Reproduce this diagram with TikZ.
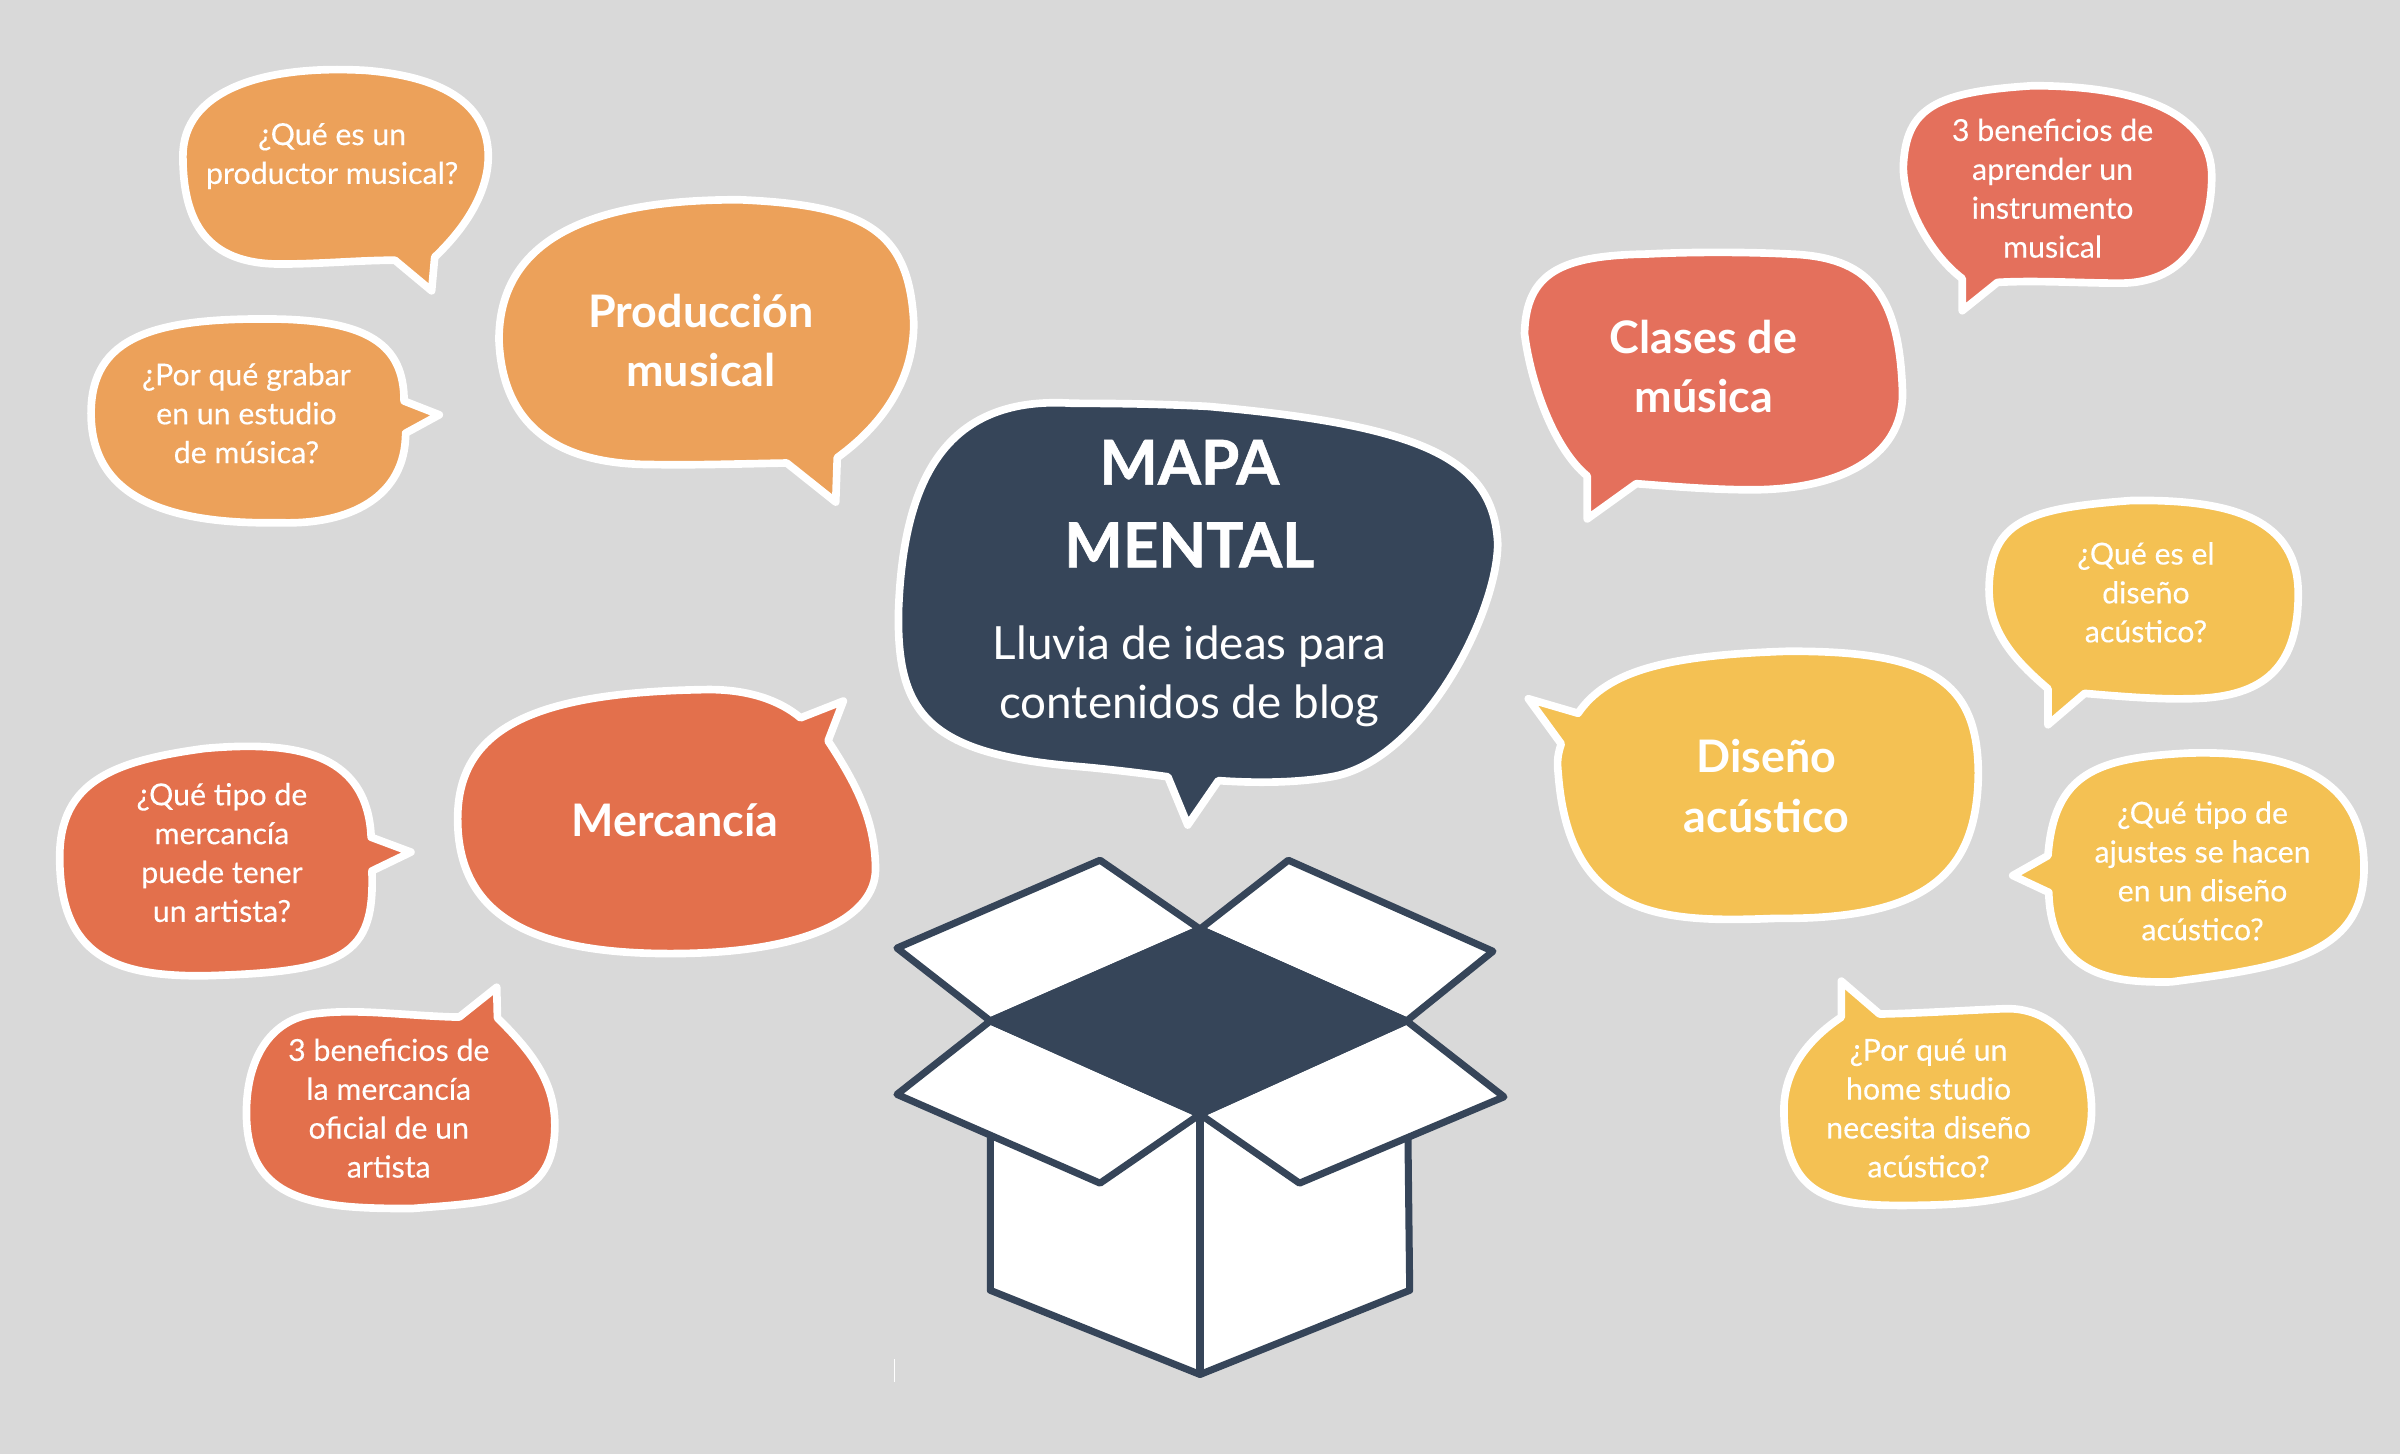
\documentclass[tikz,border=0pt]{standalone}
\usepackage{fontspec}
\setmainfont{Lato}
\definecolor{bgc}{HTML}{D9D9D9}
\definecolor{navy}{HTML}{364559}
\definecolor{orangec}{HTML}{ECA15A}
\definecolor{redc}{HTML}{E4705C}
\definecolor{merc}{HTML}{E3704C}
\definecolor{yell}{HTML}{F4C153}
\tikzset{
  bubble/.style={draw=white,line width=5pt,line join=round,fill=#1},
  boxline/.style={draw=navy,line width=4.6pt,line join=round,fill=white},
  small/.style={text=white,align=center,inner sep=0pt,font=\fontsize{19.8}{25.4}\selectfont\addfontfeatures{FakeBold=0.25}},
  big/.style={text=white,align=center,inner sep=0pt,font=\fontsize{29.3}{39}\selectfont\bfseries},
  title/.style={text=white,align=center,inner sep=0pt,font=\fontsize{40.5}{54}\selectfont\bfseries\addfontfeatures{FakeBold=0.9}},
  sub/.style={text=white,align=center,inner sep=0pt,font=\fontsize{29.9}{38.5}\selectfont},
}
\begin{document}
\begin{tikzpicture}[x=1pt,y=-1pt]
\useasboundingbox (0,0) rectangle (1568,950);
\fill[bgc] (0,0) rectangle (1568,950);
\draw[white,line width=0.8pt] (584.5,888) -- (584.5,903);

% orange bubbles
\draw[bubble=orangec] (284,168) .. controls (305,148) and (319,125) .. (319,102)
  .. controls (319,75) and (300,51) .. (239,46)
  .. controls (170,42) and (119.5,60) .. (119.5,102)
  .. controls (119.5,145) and (135,172.5) .. (183,172.5)
  .. controls (210,172.5) and (235,170) .. (258,170) -- (282,190) -- cycle;
\draw[bubble=orangec] (265,283) .. controls (265,325) and (228,343) .. (183,341.5)
  .. controls (100,343) and (59.5,320) .. (59.5,270)
  .. controls (59.5,220) and (100,207) .. (183,208.5)
  .. controls (240,210) and (264,225) .. (264,262) -- (287,271) -- cycle;
\draw[bubble=orangec] (547,299) .. controls (580,275) and (597,245) .. (597,211)
  .. controls (594,150) and (565,134) .. (483,130.5)
  .. controls (420,130.5) and (326,140) .. (326,222)
  .. controls (328,275) and (360,303.5) .. (426,303.5)
  .. controls (455,304) and (485,303) .. (514,302.5) -- (546,328) -- cycle;
% central
\draw[bubble=navy] (796,510) .. controls (825,512) and (850,511) .. (870,507.5)
  .. controls (930,497) and (978.5,400) .. (978.5,355)
  .. controls (976,300) and (930,278) .. (789,265.5)
  .. controls (760,264) and (730,263.5) .. (701,263.5)
  .. controls (620,258) and (590,310) .. (587,400)
  .. controls (586,465) and (605,492) .. (701,500.5)
  .. controls (720,502) and (745,505) .. (763,507.5) -- (776,539) -- cycle;
% red
\draw[bubble=redc] (1037,311) .. controls (1015,293) and (1000,250) .. (996,218)
  .. controls (997,178) and (1020,167) .. (1075,166)
  .. controls (1105,164.5) and (1140,164.5) .. (1170,166)
  .. controls (1220,168) and (1241,190) .. (1243,257)
  .. controls (1243,300) and (1200,320) .. (1144.5,320)
  .. controls (1120,320) and (1095,318) .. (1069,316) -- (1037,339) -- cycle;
\draw[bubble=redc] (1282,182) .. controls (1262,167) and (1243.5,135) .. (1243.5,109)
  .. controls (1245,70) and (1265,60) .. (1328,56)
  .. controls (1400,56) and (1445,75) .. (1445,115)
  .. controls (1445,150) and (1430,185) .. (1385,185)
  .. controls (1360,185) and (1330,183) .. (1305,184.5) -- (1282,203) -- cycle;
% yellow
\draw[bubble=yell] (1031,466) .. controls (1050,438) and (1090,428) .. (1167.5,425.5)
  .. controls (1262,425) and (1292,445) .. (1292.5,505)
  .. controls (1292,570) and (1260,601) .. (1160,600)
  .. controls (1085,603) and (1025,600) .. (1018,505)
  .. controls (1017,497) and (1018,492) .. (1020,486) -- (998.5,456.5) -- cycle;
\draw[bubble=yell] (1338,450) .. controls (1312,428) and (1299.5,410) .. (1299.5,385)
  .. controls (1300,340) and (1325,332) .. (1392.5,327)
  .. controls (1460,326) and (1501.5,340) .. (1501.5,388)
  .. controls (1501.5,440) and (1475,456) .. (1430,456.5)
  .. controls (1410,457) and (1385,455) .. (1362,453) -- (1338,473.5) -- cycle;
\draw[bubble=yell] (1338,559) .. controls (1342,505) and (1370,495) .. (1430,492)
  .. controls (1500,490) and (1544.5,510) .. (1544.5,567)
  .. controls (1544.5,625) and (1490,632) .. (1418.5,641.5)
  .. controls (1385,642) and (1340,640) .. (1338.5,583) -- (1315,572) -- cycle;
\draw[bubble=yell] (1228,662.5) .. controls (1255,662) and (1285,660) .. (1310,659)
  .. controls (1345,658) and (1366.5,690) .. (1366.5,725)
  .. controls (1366.5,775) and (1320,787) .. (1250,787.5)
  .. controls (1200,788) and (1165.5,785) .. (1165.5,725)
  .. controls (1165.5,700) and (1180,680) .. (1203,664.5) -- (1203,641) -- cycle;
% mercancia
\draw[bubble=merc] (541,484) .. controls (558,510) and (572,535) .. (572,568)
  .. controls (572,598) and (530,623) .. (438,623)
  .. controls (350,623) and (299,600) .. (299,535)
  .. controls (299,475) and (350,452) .. (463,450.5)
  .. controls (490,450.5) and (510,458) .. (523,469) -- (551,458) -- cycle;
\draw[bubble=merc] (243,569) .. controls (245,625) and (225,635) .. (133.6,637.5)
  .. controls (75,638) and (39,625) .. (39,560)
  .. controls (39,510) and (75,497) .. (133.6,489)
  .. controls (190,484) and (240,490) .. (242.5,547) -- (268.5,556.7) -- cycle;
\draw[bubble=merc] (325,665) .. controls (345,685) and (362.5,705) .. (362.5,735)
  .. controls (362.5,785) and (325,785) .. (270,789.5)
  .. controls (205,790) and (161,785) .. (161,727)
  .. controls (161,690) and (178,664) .. (209,662)
  .. controls (235,659) and (270,664) .. (300,664.5) -- (324.5,645) -- cycle;

% box
\draw[boxline] (647,667) -- (647,843) -- (784,898) -- (921,843) -- (919,667) -- cycle;
\draw[boxline] (784,607) -- (718.7,562) -- (586,619.4) -- (647,667) -- cycle;
\draw[boxline] (784,607) -- (841.7,562) -- (975.4,621.5) -- (919,667) -- cycle;
\draw[boxline] (647,667) -- (586,715) -- (718.7,773) -- (784,728) -- cycle;
\draw[boxline] (919,667) -- (982.6,716.6) -- (849,773) -- (784,728) -- cycle;
\draw[draw=navy,fill=navy,line width=4.6pt,line join=round] (784,607) -- (919,667) -- (784,728) -- (647,667) -- cycle;
\draw[draw=navy,line width=4.6pt] (784,728) -- (784,898);

% texts
\node[small] (q1) at (217,102) {¿Qué es un\\productor musical?};
\node[small] (q2) at (161,270) {¿Por qué grabar\\en un estudio\\de música?};
\node[big] (prod) at (458,222.5) {Producción\\musical};
\node[title] (mapa) at (777,329) {MAPA\\MENTAL};
\node[sub] (lluvia) at (777,442) {Lluvia de ideas para\\contenidos de blog};
\node[big] (clases) at (1113,239.5) {Clases de\\música};
\node[small] (r1) at (1341,123) {3 beneficios de\\aprender un\\instrumento\\musical};
\node[big] (dis) at (1154,513.5) {Diseño\\acústico};
\node[small] (y1) at (1402,387) {¿Qué es el\\diseño\\acústico?};
\node[small] (y2) at (1439,569) {¿Qué tipo de\\ajustes se hacen\\en un diseño\\acústico?};
\node[small] (y3) at (1260,724) {¿Por qué un\\home studio\\necesita diseño\\acústico?};
\node[big] (mer) at (441,536) {Mercancía};
\node[small] (m1) at (145,557) {¿Qué tipo de\\mercancía\\puede tener\\un artista?};
\node[small] (m2) at (254,724) {3 beneficios de\\la mercancía\\oficial de un\\artista};
\end{tikzpicture}
\end{document}
